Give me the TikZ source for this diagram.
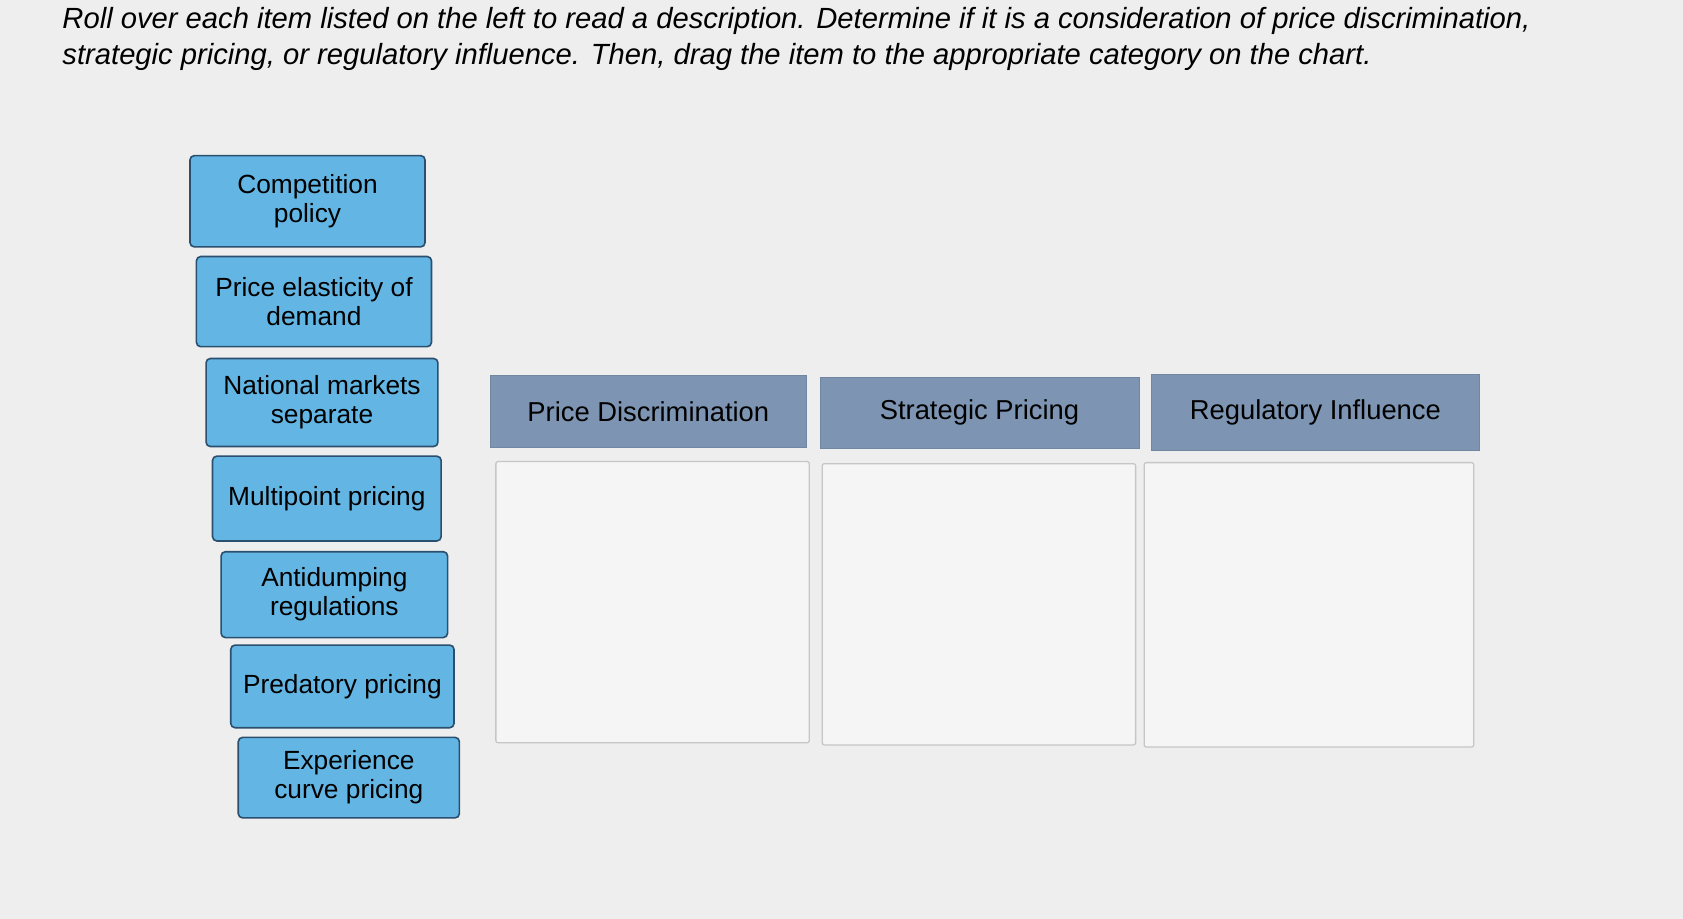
\documentclass[tikz,border=0pt]{standalone}
\usepackage{fontspec}
\setmainfont{Liberation Sans}
\definecolor{itemfill}{HTML}{63B6E4}
\definecolor{itemdraw}{HTML}{2B4F6E}
\definecolor{headfill}{HTML}{7D95B2}
\begin{document}
\begin{tikzpicture}[x=1pt,y=-1pt,
  item/.style={draw=itemdraw,line width=1.5pt,fill=itemfill,rounded corners=4pt,align=center,font=\fontsize{24.5}{27}\selectfont,inner sep=0pt},
  head/.style={fill=headfill,draw=headfill!90!black,font=\fontsize{25.5}{30}\selectfont,inner sep=0pt},
  drop/.style={draw=gray!45,line width=1.2pt,fill=gray!8,rounded corners=2pt}]
\fill[gray!13] (0,0) rectangle (1568,856);
\useasboundingbox (0,0) rectangle (1568,856);
\node[anchor=north west,align=left,font=\itshape\fontsize{27.2}{33}\selectfont,inner sep=0pt] (title) at (58,7)
 {Roll over each item listed on the left to read a description. Determine if it is a consideration of price discrimination,\\strategic pricing, or regulatory influence. Then, drag the item to the appropriate category on the chart.};
\node[item,minimum width=219pt,minimum height=85pt] (a) at (286.5,187.5) {Competition\\policy};
\node[item,minimum width=219pt,minimum height=84pt] (b) at (292.5,281) {Price elasticity of\\demand};
\node[item,minimum width=216pt,minimum height=82pt] (c) at (300,375) {National markets\\separate};
\node[item,minimum width=213pt,minimum height=79pt] (d) at (304.5,464.5) {Multipoint pricing};
\node[item,minimum width=211pt,minimum height=80pt] (e) at (311.5,554) {Antidumping\\regulations};
\node[item,minimum width=208pt,minimum height=77pt] (f) at (319,639.5) {Predatory pricing};
\node[item,minimum width=206pt,minimum height=75pt] (g) at (325,724.5) {Experience\\curve pricing};
\node[head,minimum width=294pt,minimum height=67pt] (h1) at (604,383.5) {Price Discrimination};
\node[head,minimum width=297pt,minimum height=67pt] (h2) at (912.5,384.5) {Strategic Pricing};
\node[head,minimum width=305pt,minimum height=70pt] (h3) at (1225.5,384) {Regulatory Influence};
\node[drop,minimum width=292pt,minimum height=262pt] (d1) at (608,561) {};
\node[drop,minimum width=292pt,minimum height=262pt] (d2) at (912,563) {};
\node[drop,minimum width=307pt,minimum height=265pt] (d3) at (1219.5,563.5) {};
\end{tikzpicture}
\end{document}
